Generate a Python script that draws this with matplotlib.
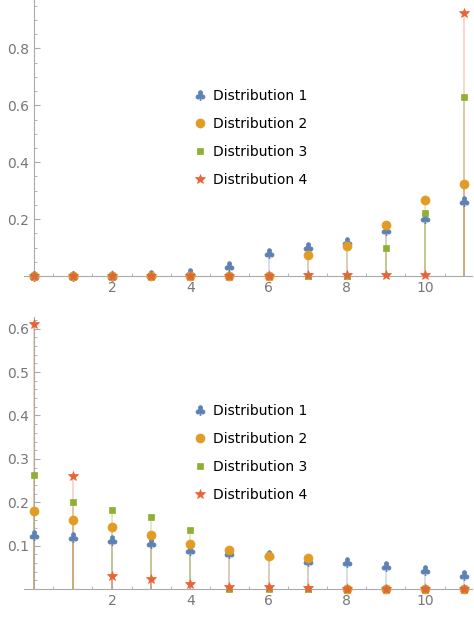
import matplotlib
matplotlib.use("Agg")
import matplotlib.pyplot as plt
import numpy as np

x = list(range(12))
labels = ["Distribution 1", "Distribution 2", "Distribution 3", "Distribution 4"]
top_d1 = [0, 0, 0, 0.005, 0.01, 0.035, 0.08, 0.103, 0.12, 0.16, 0.203, 0.262]
top_d2 = [0, 0, 0, 0, 0, 0, 0, 0.073, 0.105, 0.18, 0.267, 0.323]
top_d3 = [0, 0, 0, 0, 0, 0, 0, 0, 0, 0.1, 0.222, 0.628]
top_d4 = [0, 0, 0, 0, 0, 0, 0, 0.005, 0.005, 0.005, 0.005, 0.925]
bot_d1 = [0.125, 0.12, 0.113, 0.105, 0.09, 0.083, 0.078, 0.065, 0.062, 0.052, 0.043, 0.033]
bot_d2 = [0.18, 0.16, 0.143, 0.125, 0.104, 0.09, 0.077, 0.072, 0, 0, 0, 0]
bot_d3 = [0.263, 0.2, 0.183, 0.167, 0.135, 0, 0, 0, 0, 0, 0, 0]
bot_d4 = [0.61, 0.26, 0.03, 0.022, 0.012, 0.005, 0.004, 0.003, 0, 0, 0, 0]

colors = ["#5E81B5", "#E19C24", "#8FB032", "#EB6235"]
markers = [r"$\clubsuit$", "o", "s", "*"]
sizes = [7, 6.5, 4, 7.5]

fig = plt.figure(figsize=(4.74, 6.17), dpi=100)
ax1 = fig.add_axes([24/474, 1-276/617, 448/474, 276/617])
ax2 = fig.add_axes([24/474, 1-589/617, 448/474, 272/617])

def panel(ax, data, ymax, major, minor):
    for d, c, m, s, lab in zip(data, colors, markers, sizes, labels):
        ax.vlines(x, 0, d, color=c, alpha=0.3, lw=1.2, zorder=1)
        ax.plot(x, d, ls="none", marker=m, color=c, ms=s, mec=c, mew=0.5,
                label=lab, clip_on=False, zorder=3)
    ax.set_xlim(-0.25, 11.2)
    ax.set_ylim(0, ymax)
    for sp in ["top", "right"]:
        ax.spines[sp].set_visible(False)
    for sp in ["left", "bottom"]:
        ax.spines[sp].set_color("#aaaaaa")
        ax.spines[sp].set_position(("data", 0))
    ax.set_xticks([2, 4, 6, 8, 10])
    ax.set_xticks(np.arange(0, 11.5, 0.5), minor=True)
    ax.set_yticks(np.arange(major, ymax, major))
    ax.set_yticks(np.arange(0, ymax, minor), minor=True)
    ax.tick_params(axis="both", which="both", direction="in", colors="#aaaaaa",
                   labelcolor="#777777", labelsize=10)
    ax.tick_params(which="major", length=4)
    ax.tick_params(which="minor", length=2)
    ax.yaxis.set_major_formatter(matplotlib.ticker.FormatStrFormatter("%g"))
    ax.legend(loc="center left", bbox_to_anchor=(0.35, 0.5), frameon=False,
              fontsize=10, handletextpad=0.4, labelspacing=1.0, handlelength=1)

panel(ax1, [top_d1, top_d2, top_d3, top_d4], 0.97, 0.2, 0.05)
panel(ax2, [bot_d1, bot_d2, bot_d3, bot_d4], 0.627, 0.1, 0.02)

fig.savefig("out.png", dpi=100)
